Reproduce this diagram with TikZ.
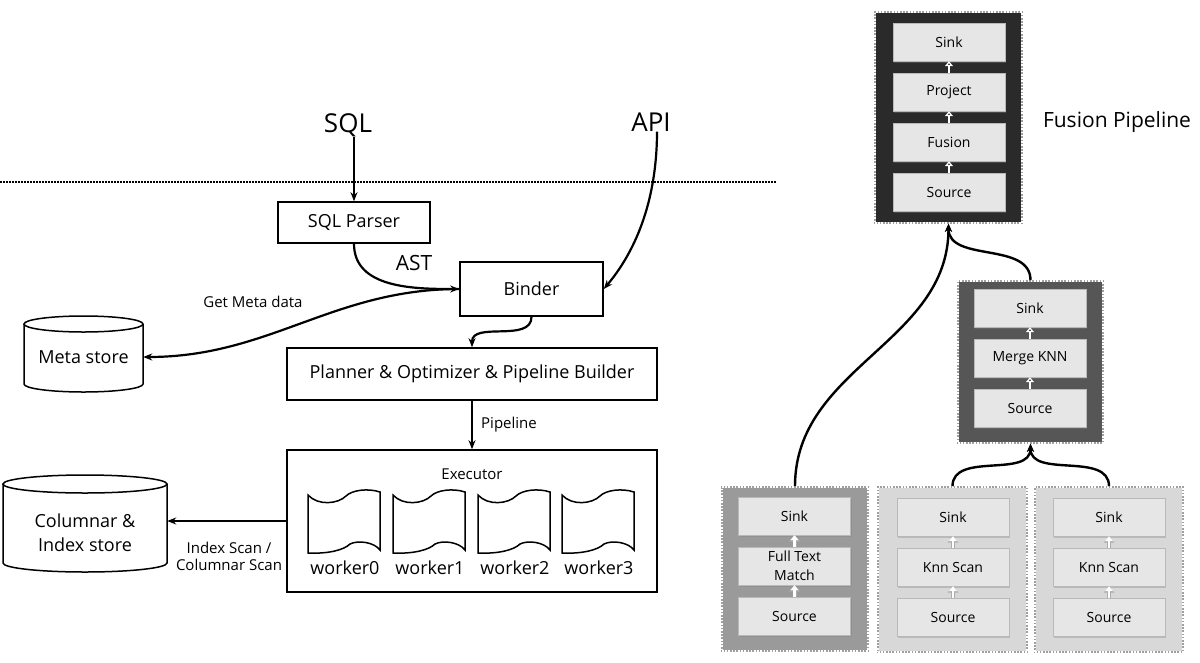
\documentclass[tikz,border=0pt]{standalone}
\usepackage{fontspec}
\setmainfont{Open Sans}
\usetikzlibrary{arrows.meta,shadows}

\definecolor{fusiongray}{HTML}{2A2A2A}
\definecolor{mergegray}{HTML}{565656}
\definecolor{ftgray}{HTML}{9A9A9A}
\definecolor{knngray}{HTML}{D8D8D8}
\definecolor{opfill}{HTML}{E6E6E6}

\tikzset{
  box/.style={draw, line width=1.6pt, fill=white, inner sep=0pt, font=\fontsize{18}{22}\selectfont},
  bigtext/.style={inner sep=0pt, font=\fontsize{26}{30}\selectfont},
  smalltext/.style={inner sep=0pt, align=center, font=\fontsize{15}{17}\selectfont},
  storetext/.style={inner sep=0pt, align=center, font=\fontsize{18}{24}\selectfont},
  store/.style={draw, line width=1.5pt, fill=white},
  tape/.style={draw, line width=1.5pt, fill=white},
  conn/.style={line width=2.2pt, -{Stealth[length=9pt,width=7pt]}},
  stage/.style={draw=gray!75, line width=1.6pt, inner sep=0pt,
    postaction={draw=white, dash pattern=on 1.6pt off 1.6pt}},
  op/.style={draw=gray!55, fill=opfill, inner sep=0pt, align=center,
    minimum width=112pt, minimum height=38pt, font=\fontsize{14}{19}\selectfont,
    drop shadow={shadow xshift=1pt, shadow yshift=-1.5pt, opacity=0.35}},
  opflow/.style={draw=white, line width=2.6pt, -{Triangle[length=5pt,width=8pt]}},
  opflowlight/.style={opflow, preaction={draw=gray!65, line width=4pt, -{Triangle[length=6.5pt,width=10.5pt]}}},
  stageflow/.style={line width=2.4pt, -{Stealth[length=8pt,width=7pt]}},
}

\begin{document}
\begin{tikzpicture}[x=1pt, y=-1pt, node distance=50pt]
\useasboundingbox (0,0) rectangle (1200,662);

% query side
\node[bigtext] (sql) at (348,125) {SQL};
\node[bigtext] (api) at (651,122) {API};
\draw[line width=1.5pt, dash pattern=on 1.5pt off 1.5pt] (0,182) -- (777,182);

\node[box, minimum width=152pt, minimum height=41pt] (parser) at (354,222.5) {SQL Parser};
\node[box, minimum width=143pt, minimum height=54pt] (binder) at (531.5,289) {Binder};
\node[box, minimum width=370pt, minimum height=52pt] (planner) at (472,374) {Planner \& Optimizer \& Pipeline Builder};
\node[box, minimum width=370pt, minimum height=142pt] (executor) at (472,521) {};
\node[smalltext] (exlabel) at (472,474) {Executor};

\foreach \wx/\wn in {308/0, 393/1, 478/2, 562/3}{
  \draw[tape, shift={(\wx,490)}] (0,5) .. controls (10,16) and (30,14) .. (38,6)
    .. controls (44,0) and (60,-2) .. (72,2) -- (72,60)
    .. controls (66,52) and (50,50) .. (42,54)
    .. controls (36,60) and (20,64) .. (0,63) -- cycle;
  \node[storetext] (worker\wn) at (\wx+37,568) {worker\wn};
}

% stores
\draw[store] (24,324) -- (24,384) arc[start angle=180, end angle=0, x radius=59.5, y radius=8] -- (143,324);
\draw[store] (83.5,324) ellipse[x radius=59.5, y radius=8];
\node[storetext, minimum width=119pt, minimum height=50pt] (metastore) at (83.5,357) {Meta store};

\draw[store] (3,484) -- (3,563) arc[start angle=180, end angle=0, x radius=82, y radius=9] -- (167,484);
\draw[store] (85,484) ellipse[x radius=82, y radius=9];
\node[storetext, minimum width=164pt, minimum height=60pt] (columnar) at (85,533) {Columnar \&\\Index store};

\node[inner sep=0pt, font=\fontsize{21}{25}\selectfont] (ast) at (414,263) {AST};
\node[smalltext] (metalabel) at (253,302) {Get Meta data};
\node[smalltext, anchor=west] (pipelabel) at (481,425) {Pipeline};
\node[smalltext] (scanlabel) at (229,556) {Index Scan /\\Columnar Scan};

\draw[conn] (parser.north |- sql.south) -- (parser.north);
\draw[conn] (parser.south) to[out=-90, in=180] (binder.west);
\draw[conn] ([xshift=6pt]api.south) to[out=-90, in=50, looseness=0.9] (binder.east);
\draw[conn] (binder.west) to[out=180, in=0] (metastore.east);
\draw[conn] (binder.south) to[out=-90, in=90] (planner.north);
\draw[conn] (planner) -- (executor);
\draw[conn] (executor.west) -- (executor.west -| columnar.east);

% pipeline side
\node[stage, fill=fusiongray, minimum width=147pt, minimum height=211pt] (fusionstage) at (948.5,117.5) {};
\node[op] (fsource) at (949,192) {Source};
\node[op, above of=fsource] (fusion) {Fusion};
\node[op, above of=fusion] (project) {Project};
\node[op, above of=project] (fsink) {Sink};
\node[inner sep=0pt, font=\fontsize{21}{25}\selectfont] (fusiontitle) at (1117,122) {Fusion Pipeline};

\node[stage, fill=mergegray, minimum width=145pt, minimum height=162pt] (mergestage) at (1030.5,362) {};
\node[op] (msource) at (1030,408) {Source};
\node[op, above of=msource] (mergeknn) {Merge KNN};
\node[op, above of=mergeknn] (msink) {Sink};

\node[stage, fill=ftgray, minimum width=146pt, minimum height=164pt] (ftstage) at (795,569) {};
\node[op] (ftsource) at (794.5,616) {Source};
\node[op, above of=ftsource] (ftmatch) {Full Text\\Match};
\node[op, above of=ftmatch] (ftsink) {Sink};

\node[stage, fill=knngray, minimum width=149pt, minimum height=165pt] (knnastage) at (952.5,569.5) {};
\node[op] (asource) at (953,617) {Source};
\node[op, above of=asource] (ascan) {Knn Scan};
\node[op, above of=ascan] (asink) {Sink};

\node[stage, fill=knngray, minimum width=148pt, minimum height=165pt] (knnbstage) at (1109,569.5) {};
\node[op] (bsource) at (1109,617) {Source};
\node[op, above of=bsource] (bscan) {Knn Scan};
\node[op, above of=bscan] (bsink) {Sink};

\draw[opflow] (fsource) edge (fusion) (fusion) edge (project) (project) edge (fsink);
\draw[opflow] (msource) edge (mergeknn) (mergeknn) edge (msink);
\draw[opflowlight] (ftsource) -- (ftmatch);
\draw[opflowlight] (ftmatch) -- (ftsink);
\draw[opflowlight] (asource) -- (ascan);
\draw[opflowlight] (ascan) -- (asink);
\draw[opflowlight] (bsource) -- (bscan);
\draw[opflowlight] (bscan) -- (bsink);

\draw[stageflow] (ftstage.north) to[out=90, in=-90] (fusionstage.south);
\draw[stageflow] (mergestage.north) to[out=90, in=-90] (fusionstage.south);
\draw[stageflow] (knnastage.north) to[out=90, in=-90] (mergestage.south);
\draw[stageflow] (knnbstage.north) to[out=90, in=-90] (mergestage.south);

\end{tikzpicture}
\end{document}
